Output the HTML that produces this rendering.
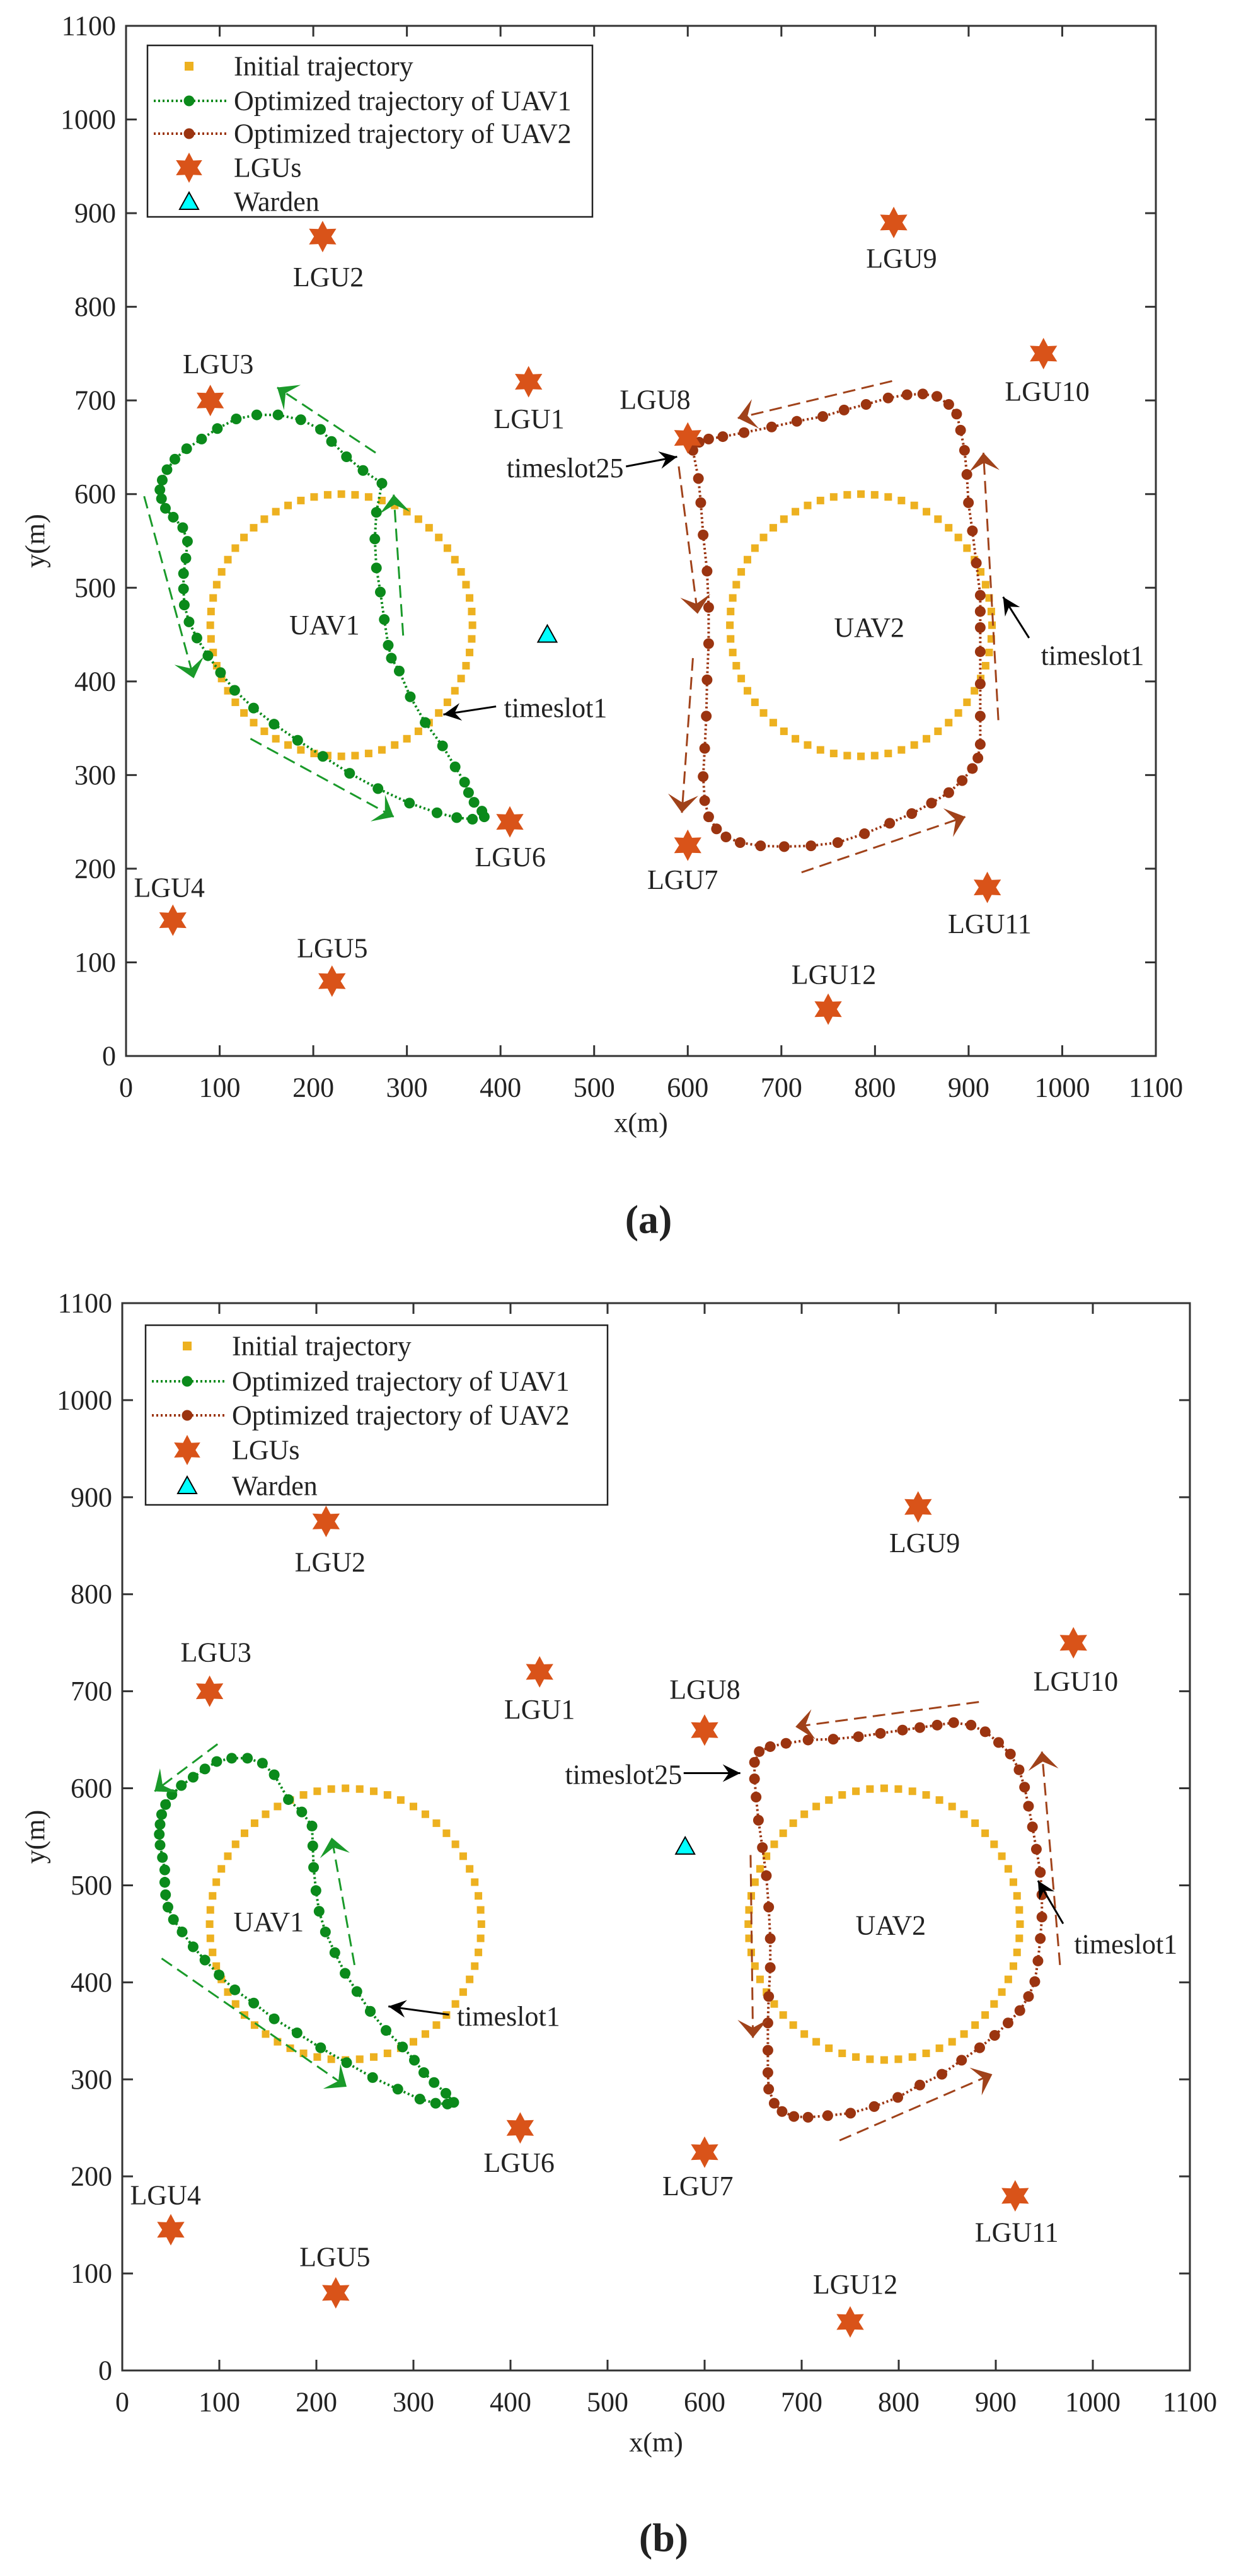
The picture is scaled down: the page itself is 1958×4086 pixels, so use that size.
<!DOCTYPE html>
<html><head><meta charset="utf-8">
<style>
html,body{margin:0;padding:0;background:#fff;}
svg{display:block;}
text{font-family:"Liberation Serif",serif;fill:#222;}
</style></head>
<body>
<svg id="s" width="1958" height="4086" viewBox="0 0 1958 4086" xmlns="http://www.w3.org/2000/svg">
<defs>
<marker id="ag" viewBox="0 0 10 10" refX="9" refY="5" markerWidth="16" markerHeight="16" markerUnits="userSpaceOnUse" orient="auto" style="overflow:visible">
<path d="M-18,-10 L0,5 L-18,20 L-10,5 Z" fill="#1a9a2a" transform="translate(9,0)"/></marker>
<marker id="ab" viewBox="0 0 10 10" refX="9" refY="5" markerWidth="16" markerHeight="16" markerUnits="userSpaceOnUse" orient="auto" style="overflow:visible">
<path d="M-18,-10 L0,5 L-18,20 L-10,5 Z" fill="#A0421a" transform="translate(9,0)"/></marker>
<marker id="ak" viewBox="0 0 10 10" refX="9" refY="5" markerWidth="14" markerHeight="14" markerUnits="userSpaceOnUse" orient="auto" style="overflow:visible">
<path d="M-20,-5 L0,5 L-20,15 L-13,5 Z" fill="#000" transform="translate(9,0)"/></marker>
</defs>
</svg>
<script>
var S=document.getElementById('s'),NS='http://www.w3.org/2000/svg';
function el(t,a,txt){var e=document.createElementNS(NS,t);for(var k in a)e.setAttribute(k,a[k]);if(txt!==undefined)e.textContent=txt;S.appendChild(e);return e;}
var GREEN='#0b8a1b',BROWN='#9B3410',YEL='#EDB120',ORG='#D95319';
function star(x,y,r){var p=[];for(var i=0;i<12;i++){var a=Math.PI/6*i-Math.PI/2;var rr=(i%2==0)?r:r*0.55;p.push((x+rr*Math.cos(a)).toFixed(1)+','+(y+rr*Math.sin(a)).toFixed(1));}el('polygon',{points:p.join(' '),fill:ORG});}
function panel(P){
 var L=P.L,T=P.T,R=P.R,B=P.B,k=(R-L)/1100,ky=(B-T)/1100;
 function dx(d){return L+d*k;} function dy(d){return B-d*ky;}
 function zx(z){return P.zx0+(z-P.zxa)*P.zsx;} function zy(z){return P.zy0+(z-P.zya)*P.zsy;}
 el('rect',{x:L,y:T,width:R-L,height:B-T,fill:'none',stroke:'#333','stroke-width':3});
 for(var v=0;v<=1100;v+=100){
  var x=dx(v),y=dy(v);
  el('line',{x1:x,y1:B,x2:x,y2:B-17,stroke:'#333','stroke-width':3});
  el('line',{x1:x,y1:T,x2:x,y2:T+17,stroke:'#333','stroke-width':3});
  el('line',{x1:L,y1:y,x2:L+17,y2:y,stroke:'#333','stroke-width':3});
  el('line',{x1:R,y1:y,x2:R-17,y2:y,stroke:'#333','stroke-width':3});
  el('text',{x:x,y:B+50,'font-size':44,'text-anchor':'middle','dominant-baseline':'central'},String(v));
  el('text',{x:L-16,y:y,'font-size':44,'text-anchor':'end','dominant-baseline':'central'},String(v));
 }
 el('text',{x:(L+R)/2,y:P.xly,'font-size':44,'text-anchor':'middle','dominant-baseline':'central'},'x(m)');
 el('text',{x:0,y:0,'font-size':44,'text-anchor':'middle','dominant-baseline':'central',transform:'translate(56,'+((T+B)/2)+') rotate(-90)'},'y(m)');
 el('text',{x:(L+R)/2+12,y:P.capy,'font-size':64,'font-weight':'bold','text-anchor':'middle','dominant-baseline':'central'},P.cap);
 [[230,460],[785,460]].forEach(function(c){for(var i=0;i<60;i++){var a=2*Math.PI*i/60;var x=dx(c[0]+140*Math.cos(a)),y=dy(c[1]+140*Math.sin(a));el('rect',{x:x-6,y:y-6,width:12,height:12,fill:YEL});}});
 function traj(pts,col){var p=pts.map(function(q){return zx(q[0]).toFixed(1)+','+zy(q[1]).toFixed(1);}).join(' ');
  el('polyline',{points:p,fill:'none',stroke:col,'stroke-width':4,'stroke-dasharray':'3 4'});
  pts.forEach(function(q){el('circle',{cx:zx(q[0]),cy:zy(q[1]),r:8.5,fill:col});});}
 traj(P.g,GREEN);traj(P.b,BROWN);
 P.ga.forEach(function(a){el('line',{x1:zx(a[0]),y1:zy(a[1]),x2:zx(a[2]),y2:zy(a[3]),stroke:'#1a9a2a','stroke-width':3,'stroke-dasharray':'20 10','marker-end':'url(#ag)'});});
 P.ba.forEach(function(a){el('line',{x1:zx(a[0]),y1:zy(a[1]),x2:zx(a[2]),y2:zy(a[3]),stroke:'#A0421a','stroke-width':3,'stroke-dasharray':'20 10','marker-end':'url(#ab)'});});
 P.ka.forEach(function(a){el('line',{x1:zx(a[0]),y1:zy(a[1]),x2:zx(a[2]),y2:zy(a[3]),stroke:'#000','stroke-width':3,'marker-end':'url(#ak)'});});
 P.tx.forEach(function(t){el('text',{x:zx(t[0]),y:zy(t[1]),'font-size':44,'text-anchor':t[3],'dominant-baseline':'central'},t[2]);});
 var lg=[[430,720],[210,875],[90,700],[50,145],[220,80],[410,250],[600,225],[600,660],[820,890],[980,750],[920,180],[750,50]];
 lg.forEach(function(p,i){star(dx(p[0]),dy(p[1]),25);var l=P.lab[i];el('text',{x:zx(l[0]),y:zy(l[1]),'font-size':44,'text-anchor':'middle','dominant-baseline':'central'},'LGU'+(i+1));});
 var wx=dx(P.w[0]),wy=dy(P.w[1]);
 el('polygon',{points:(wx)+','+(wy-15)+' '+(wx-15)+','+(wy+12)+' '+(wx+15)+','+(wy+12),fill:'#00FFFF',stroke:'#000','stroke-width':2});
 var G=P.lg;
 el('rect',{x:G.x,y:G.y,width:G.w,height:G.h,fill:'#fff',stroke:'#222','stroke-width':2.5});
 var mx=G.x+66,tx=G.x+137,rows=G.rows;
 el('rect',{x:mx-7,y:rows[0]-7,width:14,height:14,fill:YEL});
 el('line',{x1:G.x+10,y1:rows[1],x2:G.x+128,y2:rows[1],stroke:GREEN,'stroke-width':4,'stroke-dasharray':'3 4'});
 el('circle',{cx:mx,cy:rows[1],r:8.5,fill:GREEN});
 el('line',{x1:G.x+10,y1:rows[2],x2:G.x+128,y2:rows[2],stroke:BROWN,'stroke-width':4,'stroke-dasharray':'3 4'});
 el('circle',{cx:mx,cy:rows[2],r:8.5,fill:BROWN});
 star(mx,rows[3],24);
 el('polygon',{points:mx+','+(rows[4]-15)+' '+(mx-15)+','+(rows[4]+12)+' '+(mx+15)+','+(rows[4]+12),fill:'#00FFFF',stroke:'#000','stroke-width':2});
 var names=['Initial trajectory','Optimized trajectory of UAV1','Optimized trajectory of UAV2','LGUs','Warden'];
 names.forEach(function(n,i){el('text',{x:tx,y:rows[i],'font-size':44,'dominant-baseline':'central'},n);});
}
panel({L:200,T:41,R:1834,B:1675,zx0:200,zxa:160,zsx:1.2492,zy0:41,zya:33,zsy:1.2776,
 xly:1781,capy:1934,cap:'(a)',w:[450,450],
 lg:{x:234,y:72,w:706,h:272,rows:[105,160,212,266,320]},
 g:[[540,898],[521,866],[507,834],[497,818],[493,802],[488,770],[483,736],[478,706],[476,670],[478,637],[485,601],[461,585],[440,568],[421,549],[407,534],[382,522],[353,516],[326,516],[300,521],[276,533],[256,546],[237,558],[222,571],[212,584],[206,597],[203,609],[205,620],[210,632],[220,643],[232,656],[238,673],[236,694],[233,713],[233,732],[234,752],[240,773],[250,793],[264,815],[280,836],[298,858],[322,880],[348,900],[378,920],[410,940],[444,961],[480,980],[520,998],[555,1010],[580,1016],[600,1018],[615,1015],[612,1008],[602,997],[595,985],[590,972],[578,953],[562,927],[540,898]],
 b:[[1245,760],[1245,740],[1240,700],[1235,660],[1230,625],[1228,590],[1225,560],[1220,535],[1215,515],[1205,503],[1190,493],[1172,490],[1152,491],[1128,495],[1100,503],[1072,510],[1045,518],[1012,524],[980,531],[945,538],[918,543],[900,546],[888,550],[880,560],[887,595],[890,625],[893,665],[898,710],[900,755],[900,800],[898,845],[897,890],[895,930],[893,965],[895,995],[900,1015],[910,1030],[922,1040],[940,1047],[966,1051],[996,1052],[1030,1051],[1064,1047],[1098,1036],[1130,1023],[1158,1011],[1183,998],[1205,985],[1222,970],[1235,955],[1242,942],[1245,925],[1245,890],[1245,850],[1245,810],[1245,780],[1245,760]],
 ga:[[183,617,246,843],[318,918,500,1015],[512,790,500,615],[477,563,352,482]],
 ba:[[862,580,886,763],[880,818,866,1010],[1018,1084,1226,1015],[1268,895,1249,563],[1133,474,937,520]],
 ka:[[630,878,563,888],[795,580,860,568],[1307,793,1274,742]],
 tx:[[640,880,'timeslot1','start'],[792,582,'timeslot25','end'],[1322,815,'timeslot1','start'],[412,777,'UAV1','middle'],[1104,780,'UAV2','middle']],
 lab:[[672,521],[417,345],[277,453],[215,1103],[422,1178],[648,1065],[867,1093],[832,497],[1145,322],[1330,487],[1257,1148],[1059,1211]]
});
panel({L:194,T:2067,R:1888,B:3760,zx0:194,zxa:157,zsx:1.2493,zy0:2067,zya:30,zsy:1.3124,
 xly:3874,capy:4025,cap:'(b)',w:[580,540],
 lg:{x:231,y:2102,w:733,h:285,rows:[2135,2191,2245,2300,2357]},
 g:[[472,886],[455,862],[440,840],[427,815],[415,790],[407,765],[403,740],[400,712],[399,686],[398,662],[385,645],[368,630],[350,600],[335,586],[316,580],[296,580],[277,584],[262,593],[247,603],[232,613],[220,624],[212,636],[207,648],[205,660],[204,672],[205,685],[208,700],[211,715],[211,730],[212,745],[215,760],[222,775],[233,790],[247,808],[262,824],[280,842],[300,860],[324,876],[350,895],[379,912],[409,930],[442,948],[475,966],[507,980],[535,992],[555,997],[570,998],[578,996],[568,985],[553,972],[540,960],[528,945],[513,929],[492,909],[472,886]],
 b:[[1323,718],[1318,690],[1313,663],[1308,638],[1303,615],[1296,594],[1285,575],[1270,561],[1253,548],[1235,540],[1213,537],[1192,540],[1170,543],[1148,546],[1120,550],[1092,554],[1060,557],[1028,558],[1000,562],[980,566],[966,572],[960,585],[960,605],[962,627],[965,655],[970,688],[975,722],[978,760],[980,798],[980,833],[978,868],[977,900],[977,933],[977,960],[978,980],[985,997],[995,1007],[1010,1013],[1028,1014],[1053,1012],[1082,1009],[1112,1001],[1142,990],[1170,975],[1198,962],[1223,945],[1246,930],[1265,915],[1282,900],[1297,885],[1308,868],[1316,850],[1320,825],[1323,798],[1325,772],[1325,745],[1323,718]],
 ga:[[278,563,198,620],[207,822,442,977],[452,830,423,676]],
 ba:[[1245,512,1012,542],[955,697,958,918],[1068,1042,1262,962],[1348,830,1325,572]],
 ka:[[572,890,495,880],[870,598,942,598],[1352,780,1320,728]],
 tx:[[582,892,'timeslot1','start'],[868,600,'timeslot25','end'],[1366,805,'timeslot1','start'],[343,778,'UAV1','middle'],[1133,782,'UAV2','middle']],
 lab:[[687,521],[421,343],[276,452],[212,1108],[427,1183],[661,1069],[888,1097],[897,497],[1176,320],[1368,487],[1293,1153],[1088,1216]]
});
</script>
</body></html>
